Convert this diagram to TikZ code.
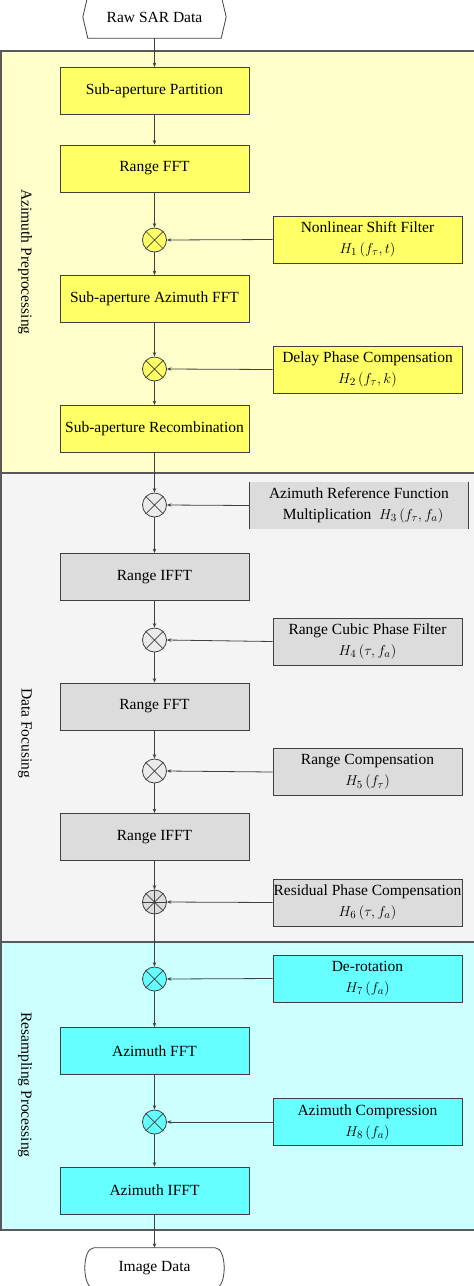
\documentclass[tikz,border=0pt]{standalone}
\usepackage{fontspec}
\setmainfont{Liberation Serif}
\usetikzlibrary{arrows.meta}
\definecolor{pyel}{HTML}{FFFFCC}
\definecolor{pgray}{HTML}{F4F4F4}
\definecolor{pcyan}{HTML}{CCFFFF}
\definecolor{byel}{HTML}{FFFF66}
\definecolor{bgray}{HTML}{DCDCDC}
\definecolor{bcyan}{HTML}{66FFFF}
\definecolor{cgray}{HTML}{EBEBEB}
\definecolor{edge}{HTML}{404040}
\begin{document}
\begin{tikzpicture}[x=1pt,y=-1pt,
  font=\fontsize{15.5}{21}\selectfont,
  box/.style={draw=edge, line width=0.8pt, minimum width=189pt, minimum height=47pt, inner sep=0pt, align=center},
  ybox/.style={box, fill=byel},
  gbox/.style={box, fill=bgray},
  cbox/.style={box, fill=bcyan},
  mult/.style={circle, draw=edge, line width=0.8pt, minimum size=24pt, inner sep=0pt},
  flow/.style={draw=edge, line width=0.8pt, -{Stealth[length=4.5pt,width=3.5pt]}},
  panel/.style={line width=1.5pt, draw=black!65},
  term/.style={minimum width=143pt, minimum height=42pt, inner sep=0pt},
  sidelabel/.style={rotate=-90},
]
\useasboundingbox (0,0) rectangle (474,1286);
% panels
\fill[pyel] (1,51) rectangle (480,473);
\fill[pgray] (1,473) rectangle (480,942);
\fill[pcyan] (1,942) rectangle (480,1230);
\draw[panel] (480,51) -- (1,51) -- (1,1230) -- (480,1230);
\draw[panel] (1,473) -- (480,473);
\draw[panel] (1,942) -- (480,942);
% side labels
\node[sidelabel] (l1) at (25,262) {Azimuth Preprocessing};
\node[sidelabel] (l2) at (25,733) {Data Focusing};
\node[sidelabel] (l3) at (25,1085) {Resampling Processing};
% terminals
\node[term] (raw) at (154.5,17) {Raw SAR Data};
\draw[edge, line width=0.8pt, fill=white] ([xshift=5pt]raw.north west) -- (raw.west) -- ([xshift=5pt]raw.south west) -- ([xshift=-5pt]raw.south east) -- (raw.east) -- ([xshift=-5pt]raw.north east);
\node[term] at (154.5,17) {Raw SAR Data};
\node[term, minimum height=40pt] (img) at (154.5,1268) {Image Data};
\draw[edge, line width=0.8pt, fill=white] ([xshift=11pt]img.south west) .. controls ([xshift=-1pt]img.south west) and ([xshift=-1pt]img.north west) .. ([xshift=11pt]img.north west) -- ([xshift=-11pt]img.north east) .. controls ([xshift=1pt]img.north east) and ([xshift=1pt]img.south east) .. ([xshift=-11pt]img.south east);
\node[term, minimum height=40pt] at (154.5,1268) {Image Data};
% main column
\node[ybox] (b1) at (154.5,91) {Sub-aperture Partition};
\node[ybox] (b2) at (154.5,168.5) {Range FFT};
\node[mult, fill=byel] (m1) at (154.5,240) {};
\node[ybox] (b3) at (154.5,299) {Sub-aperture Azimuth FFT};
\node[mult, fill=byel] (m2) at (154.5,369) {};
\node[ybox] (b4) at (154.5,429) {Sub-aperture Recombination};
\node[mult, fill=cgray] (m3) at (154.5,505) {};
\node[gbox] (b5) at (154.5,577) {Range IFFT};
\node[mult, fill=cgray] (m4) at (154.5,640) {};
\node[gbox] (b6) at (154.5,706.5) {Range FFT};
\node[mult, fill=cgray] (m5) at (154.5,771) {};
\node[gbox] (b7) at (154.5,837) {Range IFFT};
\node[mult, fill=bgray] (m6) at (154.5,902) {};
\node[mult, fill=bcyan] (m7) at (154.5,979) {};
\node[cbox] (b8) at (154.5,1051) {Azimuth FFT};
\node[mult, fill=bcyan] (m8) at (154.5,1122) {};
\node[cbox] (b9) at (154.5,1190.5) {Azimuth IFFT};
% side boxes
\node[ybox] (s1) at (367.5,239.5) {Nonlinear Shift Filter\\ $H_1\left(f_\tau,t\right)$};
\node[ybox] (s2) at (367.5,369.5) {Delay Phase Compensation\\ $H_2\left(f_\tau,k\right)$};
\node[minimum width=218.5pt, minimum height=47pt, inner sep=0pt, fill=bgray, align=center] (s3) at (359,505.5) {Azimuth Reference Function\\ \hspace*{8pt}Multiplication\ \ $H_3\left(f_\tau,f_a\right)$};
\draw[edge, line width=0.8pt] (s3.north west) -- (s3.south west) (s3.north east) -- (s3.south east);
\node[gbox] (s4) at (367.5,641.5) {Range Cubic Phase Filter\\ $H_4\left(\tau,f_a\right)$};
\node[gbox] (s5) at (367.5,772) {Range Compensation\\ $H_5\left(f_\tau\right)$};
\node[gbox] (s6) at (367.5,902.5) {Residual Phase Compensation\\ $H_6\left(\tau,f_a\right)$};
\node[cbox] (s7) at (367.5,978.5) {De-rotation\\ $H_7\left(f_a\right)$};
\node[cbox] (s8) at (367.5,1122) {Azimuth Compression\\ $H_8\left(f_a\right)$};
% multiplier crosses
\foreach \m in {m1,m2,m3,m4,m5,m6,m7,m8}{
  \draw[edge, line width=0.7pt] (\m.north west) -- (\m.south east) (\m.north east) -- (\m.south west);
}
\draw[edge, line width=0.7pt] (m6.north) -- (m6.south) (m6.west) -- (m6.east);
% flow
\draw[flow] (raw.south) -- (b1.north);
\draw[flow] (b1.south) -- (b2.north);
\draw[flow] (b2.south) -- (m1.north);
\draw[flow] (m1.south) -- (b3.north);
\draw[flow] (b3.south) -- (m2.north);
\draw[flow] (m2.south) -- (b4.north);
\draw[flow] (b4.south) -- (m3.north);
\draw[flow] (m3.south) -- (b5.north);
\draw[flow] (b5.south) -- (m4.north);
\draw[flow] (m4.south) -- (b6.north);
\draw[flow] (b6.south) -- (m5.north);
\draw[flow] (m5.south) -- (b7.north);
\draw[flow] (b7.south) -- (m6.north);
\draw[flow] (m6.south) -- (m7.north);
\draw[flow] (m7.south) -- (b8.north);
\draw[flow] (b8.south) -- (m8.north);
\draw[flow] (m8.south) -- (b9.north);
\draw[flow] (b9.south) -- (img.north);
% side inputs
\draw[flow] (s1.west) -- (m1.east);
\draw[flow] (s2.west) -- (m2.east);
\draw[flow] (s3.west) -- (m3.east);
\draw[flow] (s4.west) -- (m4.east);
\draw[flow] (s5.west) -- (m5.east);
\draw[flow] (s6.west) -- (m6.east);
\draw[flow] (s7.west) -- (m7.east);
\draw[flow] (s8.west) -- (m8.east);
\end{tikzpicture}
\end{document}
